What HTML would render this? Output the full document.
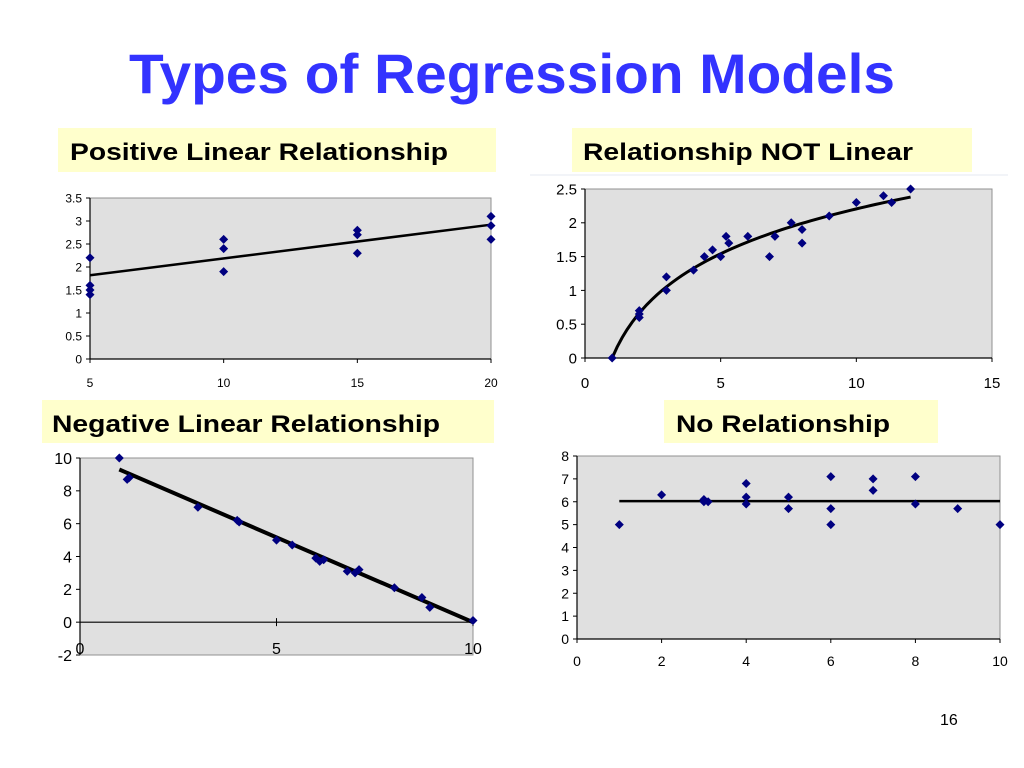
<!DOCTYPE html>
<html><head><meta charset="utf-8"><style>
html,body{margin:0;padding:0;background:#fff;}
svg{display:block;font-family:"Liberation Sans",Arial,sans-serif;}
</style></head><body>
<svg id="s" width="1024" height="768" viewBox="0 0 1024 768">
<text x="512" y="93" text-anchor="middle" font-size="56" font-weight="bold" fill="#3333ff" textLength="766" lengthAdjust="spacingAndGlyphs">Types of Regression Models</text>
<rect x="58" y="128" width="438" height="44" fill="#ffffcc"/>
<text x="70" y="160" font-size="24" font-weight="bold" textLength="378" lengthAdjust="spacingAndGlyphs">Positive Linear Relationship</text>
<rect x="572" y="128" width="400" height="44" fill="#ffffcc"/>
<text x="583" y="160" font-size="24" font-weight="bold" textLength="330" lengthAdjust="spacingAndGlyphs">Relationship NOT Linear</text>
<rect x="42" y="400" width="452" height="43" fill="#ffffcc"/>
<text x="52" y="432" font-size="24" font-weight="bold" textLength="388" lengthAdjust="spacingAndGlyphs">Negative Linear Relationship</text>
<rect x="664" y="400" width="274" height="43" fill="#ffffcc"/>
<text x="676" y="432" font-size="24" font-weight="bold" textLength="214" lengthAdjust="spacingAndGlyphs">No Relationship</text>
<line x1="530" y1="175" x2="1008" y2="175" stroke="#e4eaf0" stroke-width="1"/>
<text x="940" y="725" font-size="16">16</text>
</svg>
<script>
// Chart 1: positive linear
const c1X=[5,5,5,5,10,10,10,15,15,15,20,20,20];
const c1Y=[2.2,1.6,1.5,1.4,2.6,2.4,1.9,2.8,2.7,2.3,3.1,2.9,2.6];
const c1Fit=[[5,1.82],[20,2.92]];
const c1XTicks=[5,10,15,20];
const c1YTicks=[0,0.5,1,1.5,2,2.5,3,3.5];
// Chart 2: non-linear
const c2X=[1,2,2,2,3,3,4,4.4,4.7,5,5.2,5.3,6,6.8,7,7.6,8,8,9,10,11,11.3,12];
const c2Y=[0,0.7,0.65,0.6,1.2,1.0,1.3,1.5,1.6,1.5,1.8,1.7,1.8,1.5,1.8,2.0,1.9,1.7,2.1,2.3,2.4,2.3,2.5];
const c2LogCoef=[0.958];
const c2XTicks=[0,5,10,15];
const c2YTicks=[0,0.5,1,1.5,2,2.5];
// Chart 3: negative linear
const c3X=[1,1.2,1.25,3,4,4.05,5,5.4,6,6.1,6.2,6.8,7,7.1,8,8.7,8.9,10];
const c3Y=[10,8.7,8.8,7,6.2,6.1,5,4.7,3.9,3.7,3.8,3.1,3.0,3.2,2.1,1.5,0.9,0.1];
const c3Fit=[[1,9.3],[10,0]];
const c3XTicks=[0,5,10];
const c3YTicks=[-2,0,2,4,6,8,10];
// Chart 4: no relationship
const c4X=[1,2,3,3,3.1,4,4,4,5,5,6,6,6,7,7,8,8,9,10];
const c4Y=[5,6.3,6,6.1,6.0,6.8,6.2,5.9,6.2,5.7,7.1,5.7,5,7,6.5,7.1,5.9,5.7,5];
const c4Fit=[[1,6.03],[10,6.03]];
const c4XTicks=[0,2,4,6,8,10];
const c4YTicks=[0,1,2,3,4,5,6,7,8];

const NS="http://www.w3.org/2000/svg";
const svg=document.getElementById('s');
function el(tag,attrs,parent){const e=document.createElementNS(NS,tag);for(const k in attrs)e.setAttribute(k,attrs[k]);(parent||svg).appendChild(e);return e;}
function scale(d0,d1,r0,r1){return v=>r0+(v-d0)*(r1-r0)/(d1-d0);}

function chart(cfg){
  const g=el('g',{});
  
  
  const sx=scale(cfg.xd[0],cfg.xd[1],cfg.x0,cfg.x1), sy=scale(cfg.yd[0],cfg.yd[1],cfg.y0,cfg.y1);
  const bg=el('rect',{x:cfg.x0,y:cfg.y1,width:cfg.x1-cfg.x0,height:cfg.y0-cfg.y1,fill:'#e0e0e0',stroke:'#909090','stroke-width':1},g);
  
  
  const axY=cfg.xAxisAt!==undefined?sy(cfg.xAxisAt):cfg.y0;
  const ax=el('line',{x1:cfg.x0,y1:axY,x2:cfg.x1,y2:axY,stroke:'#000','stroke-width':1.2},g);
  
  
  const ay=el('line',{x1:cfg.x0,y1:cfg.y0,x2:cfg.x0,y2:cfg.y1,stroke:'#000','stroke-width':1.2},g);
  
  
  cfg.xt.forEach(v=>{
    const x=sx(v);
    el('line',{x1:x,y1:axY-(cfg.xAxisAt!==undefined?4:0),x2:x,y2:axY+4,stroke:'#000'},g);
    const t=el('text',{x:x,y:cfg.xLabY,'text-anchor':'middle','font-size':cfg.fs,fill:'#000'},g);
    
    
    t.textContent=v;
  });
  cfg.yt.forEach(v=>{
    const y=sy(v);
    el('line',{x1:cfg.x0-4,y1:y,x2:cfg.x0,y2:y,stroke:'#000'},g);
    const t=el('text',{x:cfg.x0-8,y:y+cfg.fs*0.36,'text-anchor':'end','font-size':cfg.fs,fill:'#000'},g);
    
    
    t.textContent=v;
  });
  let pts;
  if(cfg.curve){pts=[];for(let i=0;i<=60;i++){const x=cfg.curve.from+(cfg.curve.to-cfg.curve.from)*i/60;pts.push(sx(x)+','+sy(cfg.curve.f(x)));}}
  else pts=cfg.fit.map(p=>sx(p[0])+','+sy(p[1]));
  const ln=el('polyline',{points:pts.join(' '),fill:'none',stroke:'#000','stroke-width':cfg.lw},g);
  
  
  cfg.xs.forEach((xv,i)=>{
    const x=sx(xv),y=sy(cfg.ys[i]),r=4.5;
    const p=el('polygon',{points:`${x},${y-r} ${x+r},${y} ${x},${y+r} ${x-r},${y}`,fill:'#000080'},g);
    
    
  });
}
chart({name:'positive-linear-chart',x0:90,x1:491,y0:359,y1:198,xd:[5,20],yd:[0,3.5],xt:c1XTicks,yt:c1YTicks,xs:c1X,ys:c1Y,fit:c1Fit,fs:12,xLabY:387,lw:2.5});
chart({name:'nonlinear-chart',x0:585,x1:992,y0:358,y1:189,xd:[0,15],yd:[0,2.5],xt:c2XTicks,yt:c2YTicks,xs:c2X,ys:c2Y,curve:{from:1,to:12,f:x=>c2LogCoef[0]*Math.log(x)},fs:15,xLabY:388,lw:3});
chart({name:'negative-linear-chart',x0:80,x1:473,y0:655,y1:458,xd:[0,10],yd:[-2,10],xAxisAt:0,xt:c3XTicks,yt:c3YTicks,xs:c3X,ys:c3Y,fit:c3Fit,fs:16,xLabY:654,lw:4});
chart({name:'no-relationship-chart',x0:577,x1:1000,y0:639,y1:456,xd:[0,10],yd:[0,8],xt:c4XTicks,yt:c4YTicks,xs:c4X,ys:c4Y,fit:c4Fit,fs:14,xLabY:666,lw:2.5});
</script>
</body></html>
